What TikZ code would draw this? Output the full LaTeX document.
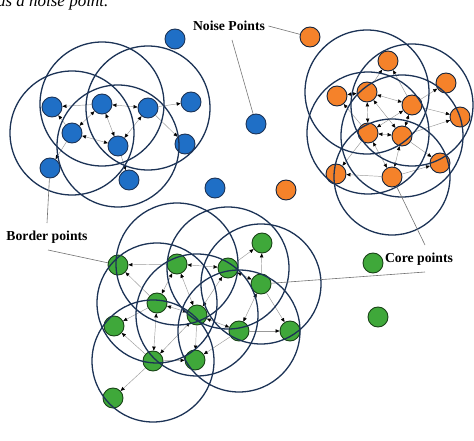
\documentclass[tikz,border=0pt]{standalone}
\usepackage{fontspec}
\setmainfont{Liberation Serif}
\usepackage{xcolor}
\usepackage{tikz}
\usetikzlibrary{arrows.meta}
\definecolor{ptblue}{HTML}{1F6FC6}
\definecolor{ptorange}{HTML}{F5822A}
\definecolor{ptgreen}{HTML}{3FA83A}
\definecolor{ringblue}{HTML}{1C3356}

\begin{document}
\begin{tikzpicture}[x=1pt,y=-1pt,
		bdot/.style={circle,draw=ringblue,line width=0.9pt,fill=ptblue,minimum size=20pt,inner sep=0pt},
		odot/.style={circle,draw=ringblue!70!black,line width=0.9pt,fill=ptorange,minimum size=20pt,inner sep=0pt},
		gdot/.style={circle,draw=ptgreen!40!black,line width=0.9pt,fill=ptgreen,minimum size=20pt,inner sep=0pt},
		nb/.style={draw=gray!80,line width=0.45pt,-{Triangle[length=4pt,width=3.4pt,color=black]}},
		bb/.style={draw=gray!80,line width=0.45pt,{Triangle[length=4pt,width=3.4pt,color=black]}-{Triangle[length=4pt,width=3.4pt,color=black]}},
		ring/.style={draw=ringblue,line width=1.3pt},
		lbl/.style={font=\fontsize{13.7}{16}\selectfont\bfseries},
		lead/.style={draw=gray!90!black,line width=0.6pt}]
				\useasboundingbox (0,0) rectangle (474,441);
				\node[anchor=base east,font=\fontsize{17}{20}\selectfont\itshape] (cap) at (112,7) {as a noise point.};
				
				% blue cluster
				\node[bdot] (b1) at (52,107) {};
				\node[bdot] (b2) at (102,104) {};
				\node[bdot] (b3) at (148,108) {};
				\node[bdot] (b4) at (191,102) {};
				\node[bdot] (b5) at (72,133) {};
				\node[bdot] (b6) at (118,146) {};
				\node[bdot] (b7) at (185,144) {};
				\node[bdot] (b8) at (50,168) {};
				\node[bdot] (b9) at (129,180) {};
				\node[bdot] (bn1) at (175,39) {};%noise
				\node[bdot] (bn2) at (256,124) {};%noise
				\node[bdot] (bn3) at (215,188) {};%noise
				
				% orange cluster
				\node[odot] (o1) at (388,61) {};
				\node[odot] (o2) at (446,83) {};
				\node[odot] (o3) at (337,96) {};
				\node[odot] (o4) at (367,92) {};
				\node[odot] (o5) at (412,105) {};
				\node[odot] (o6) at (460,117) {};
				\node[odot] (o7) at (368,133) {};
				\node[odot] (o8) at (402,136) {};
				\node[odot] (o9) at (440,163) {};
				\node[odot] (o10) at (336,174) {};
				\node[odot] (o11) at (392,177) {};
				\node[odot] (on1) at (310,37) {};%noise
				\node[odot] (on2) at (286,190) {};%noise
				
				% green cluster
				\node[gdot] (g1) at (118,265) {};
				\node[gdot] (g2) at (177,264) {};
				\node[gdot] (g3) at (228,268) {};
				\node[gdot] (g4) at (157,303) {};
				\node[gdot] (g5) at (197,315) {};
				\node[gdot] (g6) at (114,326) {};
				\node[gdot] (g7) at (153,361) {};
				\node[gdot] (g8) at (195,360) {};
				\node[gdot] (g9) at (113,398) {};
				\node[gdot] (g10) at (262,243) {};
				\node[gdot] (g11) at (261,284) {};
				\node[gdot] (g12) at (290,331) {};
				\node[gdot] (g13) at (239,331) {};
				\node[gdot] (gn1) at (373,263) {};%noise
				\node[gdot] (gn2) at (378,317) {};%noise
				
				\draw[nb] (b2) -- (b1);
				\draw[bb] (b2) -- (b3);
				\draw[nb] (b3) -- (b4);
				\draw[nb] (b3) -- (b7);
				\draw[bb] (b2) -- (b5);
				\draw[bb] (b2) -- (b6);
				\draw[bb] (b3) -- (b6);
				\draw[bb] (b5) -- (b6);
				\draw[nb] (b5) -- (b1);
				\draw[nb] (b5) -- (b8);
				\draw[nb] (b6) -- (b9);
				
				\draw[nb] (o4) -- (o1);
				\draw[nb] (o5) -- (o1);
				\draw[bb] (o4) -- (o3);
				\draw[bb] (o4) -- (o5);
				\draw[nb] (o5) -- (o2);
				\draw[nb] (o5) -- (o6);
				\draw[nb] (o8) -- (o6);
				\draw[bb] (o4) -- (o7);
				\draw[bb] (o7) -- (o8);
				\draw[bb] (o5) -- (o7);
				\draw[bb] (o5) -- (o8);
				\draw[bb] (o4) -- (o8);
				\draw[nb] (o7) -- (o3);
				\draw[nb] (o7) -- (o10);
				\draw[nb] (o11) -- (o10);
				\draw[nb] (o11) -- (o9);
				\draw[nb] (o8) -- (o9);
				\draw[bb] (o7) -- (o11);
				\draw[bb] (o8) -- (o11);
				
				\draw[nb] (g2) -- (g1);
				\draw[bb] (g3) -- (g2);
				\draw[nb] (g4) -- (g1);
				\draw[bb] (g4) -- (g2);
				\draw[bb] (g2) -- (g5);
				\draw[bb] (g3) -- (g5);
				\draw[bb] (g4) -- (g5);
				\draw[nb] (g4) -- (g6);
				\draw[bb] (g4) -- (g7);
				\draw[bb] (g5) -- (g7);
				\draw[nb] (g5) -- (g8);
				\draw[nb] (g7) -- (g8);
				\draw[nb] (g7) -- (g6);
				\draw[nb] (g7) -- (g9);
				\draw[nb] (g3) -- (g10);
				\draw[nb] (g11) -- (g10);
				\draw[bb] (g11) -- (g3);
				\draw[nb] (g11) -- (g12);
				\draw[bb] (g11) -- (g13);
				\draw[nb] (g13) -- (g12);
				\draw[nb] (g13) -- (g8);
				\draw[bb] (g5) -- (g13);
				
				% eps-neighbourhoods of the core points
				\draw[ring] (b2) circle (62pt);
				\draw[ring] (b3) circle (62pt);
				\draw[ring] (b5) circle (62pt);
				\draw[ring] (b6) circle (61pt);
				\draw[ring] (o4) circle (62pt);
				\draw[ring] (o5) circle (61pt);
				\draw[ring] (o7) circle (61pt);
				\draw[ring] (o8) circle (61pt);
				\draw[ring] (o11) circle (58pt);
				\draw[ring] (g2) circle (61pt);
				\draw[ring] (g3) circle (61pt);
				\draw[ring] (g4) circle (60pt);
				\draw[ring] (g5) circle (61pt);
				\draw[ring] (g7) circle (61pt);
				\draw[ring] (g11) circle (60pt);
				\draw[ring] (g13) circle (61pt);
				
				% labels
				\node[lbl] (noise) at (229,26) {Noise Points};
				\node[lbl] (border) at (47,237) {Border points};
				\node[lbl] (core) at (419,259) {Core points};
				\coordinate (nl) at (232,40);
				\coordinate (bl1) at (47,223);
				\coordinate (bl2) at (48,250);
				\coordinate (cl1) at (425,245);
				\coordinate (cl2) at (425,272);
				\draw[lead] (noise.east) -- (on1);
				\draw[lead] (nl) -- (bn2);
				\draw[lead] (b8) -- (bl1);
				\draw[lead] (bl2) -- (g1);
				\draw[lead] (o11) -- (cl1);
				\draw[lead] (cl2) -- (g11);
			\end{tikzpicture}
\end{document}
